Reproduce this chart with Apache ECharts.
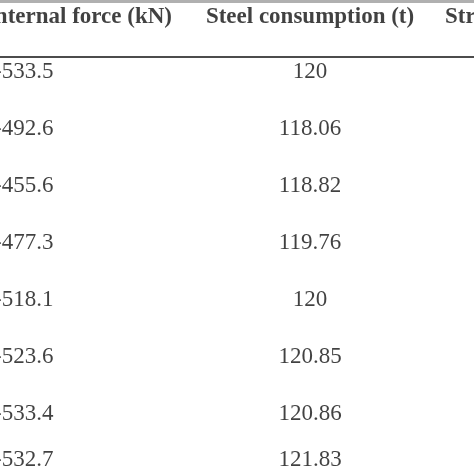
<!DOCTYPE html><html><head><meta charset="utf-8"><script src="https://cdn.jsdelivr.net/npm/echarts@6/dist/echarts.min.js"></script>
<style>html,body{margin:0;padding:0;background:#fff}#c{width:474px;height:474px}</style></head><body><div id="c"></div><script>
const headers = ['Internal force (kN)', 'Steel consumption (t)', 'Structural'];
const internalForce = ['-533.5', '-492.6', '-455.6', '-477.3', '-518.1', '-523.6', '-533.4', '-532.7'];
const steelConsumption = ['120', '118.06', '118.82', '119.76', '120', '120.85', '120.86', '121.83'];
const font = '"Liberation Serif", "Times New Roman", serif';
const data = [];
const lastShift = r => (r === 7 ? -11 : 0);
headers.forEach((h, i) => data.push({value: [i, -1], label: {formatter: h, fontWeight: 'bold', align: i === 0 ? 'right' : (i === 2 ? 'left' : 'center'), offset: [i === 0 ? 80 : (i === 2 ? -83 : 0), 2]}}));
internalForce.forEach((v, r) => data.push({value: [0, r], label: {formatter: v, align: 'left', offset: [-98, lastShift(r)]}}));
steelConsumption.forEach((v, r) => data.push({value: [1, r], label: {formatter: v, align: 'center', offset: [0, lastShift(r)]}}));
const chart = echarts.init(document.getElementById('c'));
chart.setOption({
  animation: false,
  grid: {left: 0, right: 0, top: 0, bottom: 0},
  xAxis: {type: 'value', min: -0.422, max: 1.752, show: false},
  yAxis: {type: 'value', inverse: true, min: -1.263, max: 7.053, show: false},
  graphic: [{type: 'rect', shape: {x: 0, y: 0, width: 474, height: 3}, style: {fill: '#b0b0b0'}}],
  series: [{
    type: 'scatter', symbolSize: 0, clip: false, data,
    label: {show: true, position: 'inside', color: '#111', fontFamily: font, fontSize: 23},
    markLine: {silent: true, symbol: 'none', label: {show: false}, lineStyle: {color: '#111', width: 1.5, type: 'solid'}, data: [{yAxis: -0.263}]}
  }]
});
</script></body></html>
